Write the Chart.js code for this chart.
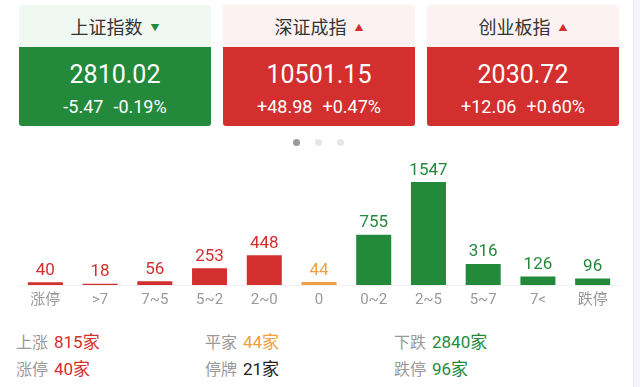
<!DOCTYPE html>
<html>
<head>
<meta charset="utf-8">
<script src="https://cdn.jsdelivr.net/npm/chart.js@4"></script>
<style>
  body { margin: 0; width: 640px; height: 387px; background: #fff; position: relative; overflow: hidden;
         font-family: Roboto, "Noto Sans CJK SC", sans-serif; }
  .card { position: absolute; top: 5px; width: 192px; height: 121px; border-radius: 3px; overflow: hidden; }
  .card .head { height: 42px; line-height: 45px; text-align: center; font-size: 18px; color: #333; }
  .card .body { height: 79px; color: #fff; text-align: center; }
  .card .val { font-size: 25px; padding-top: 13px; line-height: 30px; }
  .card .chg { font-size: 18px; line-height: 22px; margin-top: 6px; }
  .card .chg span + span { margin-left: 10px; }
  .tri { font-size: 9px; margin-left: 8px; vertical-align: 3px; }
  .up .head { background: #fcf2f2; } .up .body { background: #d32f2f; } .up .tri { color: #d32f2f; }
  .dn .head { background: #f0f8f2; } .dn .body { background: #238a3c; } .dn .tri { color: #238a3c; }
  .dot { position: absolute; top: 139px; width: 7px; height: 7px; border-radius: 50%; background: #e6e6e6; }
  #wrap { position: absolute; left: 0; top: 150px; width: 640px; height: 167px; }
  .stat { position: absolute; font-size: 17px; white-space: nowrap; }
  .stat .k { color: #999; font-size: 16px; margin-right: 6px; }
  .side { position: absolute; left: 633px; top: 0; width: 7px; height: 387px; background: #f4f5fa; border-left: 1px solid #e8eaf2; }
</style>
</head>
<body>
<div class="card dn" style="left:19px"><div class="head">上证指数<span class="tri">▼</span></div>
  <div class="body"><div class="val">2810.02</div><div class="chg"><span>-5.47</span><span>-0.19%</span></div></div></div>
<div class="card up" style="left:223px"><div class="head">深证成指<span class="tri">▲</span></div>
  <div class="body"><div class="val">10501.15</div><div class="chg"><span>+48.98</span><span>+0.47%</span></div></div></div>
<div class="card up" style="left:427px"><div class="head">创业板指<span class="tri">▲</span></div>
  <div class="body"><div class="val">2030.72</div><div class="chg"><span>+12.06</span><span>+0.60%</span></div></div></div>

<div class="dot" style="left:293px;background:#999"></div>
<div class="dot" style="left:315px"></div>
<div class="dot" style="left:337px"></div>

<div id="wrap"><canvas id="dist"></canvas></div>

<div class="stat" style="left:16px;top:328px"><span class="k">上涨</span><span style="color:#d32f2f">815家</span></div>
<div class="stat" style="left:16px;top:355px"><span class="k">涨停</span><span style="color:#d32f2f">40家</span></div>
<div class="stat" style="left:205px;top:328px"><span class="k">平家</span><span style="color:#f0a040">44家</span></div>
<div class="stat" style="left:205px;top:355px"><span class="k">停牌</span><span style="color:#222">21家</span></div>
<div class="stat" style="left:394px;top:328px"><span class="k">下跌</span><span style="color:#238a3c">2840家</span></div>
<div class="stat" style="left:394px;top:355px"><span class="k">跌停</span><span style="color:#238a3c">96家</span></div>
<div class="side"></div>

<script>
const categories = ["涨停", ">7", "7~5", "5~2", "2~0", "0", "0~2", "2~5", "5~7", "7<", "跌停"];
const counts = [40, 18, 56, 253, 448, 44, 755, 1547, 316, 126, 96];
const barColors = ["#d32f2f", "#d32f2f", "#d32f2f", "#d32f2f", "#d32f2f", "#f0a040",
                   "#238a3c", "#238a3c", "#238a3c", "#238a3c", "#238a3c"];

// numbers above each bar
const valueLabels = {
    id: "valueLabels",
    afterDatasetsDraw(chart) {
        const ctx = chart.ctx;
        const meta = chart.getDatasetMeta(0);
        ctx.save();
        ctx.font = "17px Roboto, 'Noto Sans CJK SC'";
        ctx.textAlign = "center";
        ctx.textBaseline = "alphabetic";
        meta.data.forEach((bar, i) => {
            ctx.fillStyle = barColors[i];
            ctx.fillText(counts[i], bar.x, bar.y - 7.5);
        });
        ctx.restore();
    }
};

const ctx = document.getElementById("dist").getContext("2d");
new Chart(ctx, {
    type: "bar",
    data: {
        labels: categories,
        datasets: [{
            data: counts,
            backgroundColor: barColors,
            barPercentage: 0.64,
            categoryPercentage: 1
        }]
    },
    options: {
        responsive: true,
        maintainAspectRatio: false,
        animation: false,
        layout: { padding: { left: 18, right: 20, top: 32, bottom: 1 } },
        plugins: { legend: { display: false }, tooltip: { enabled: false } },
        scales: {
            x: {
                grid: { display: false, drawTicks: false },
                border: { display: true, color: "#f0f0f0", width: 1 },
                ticks: { color: "#999", padding: 6.5, font: { size: 15, family: "Roboto, 'Noto Sans CJK SC'" } }
            },
            y: { display: false, min: 0, max: Math.max(...counts) }
        }
    },
    plugins: [valueLabels]
});
</script>
</body>
</html>
